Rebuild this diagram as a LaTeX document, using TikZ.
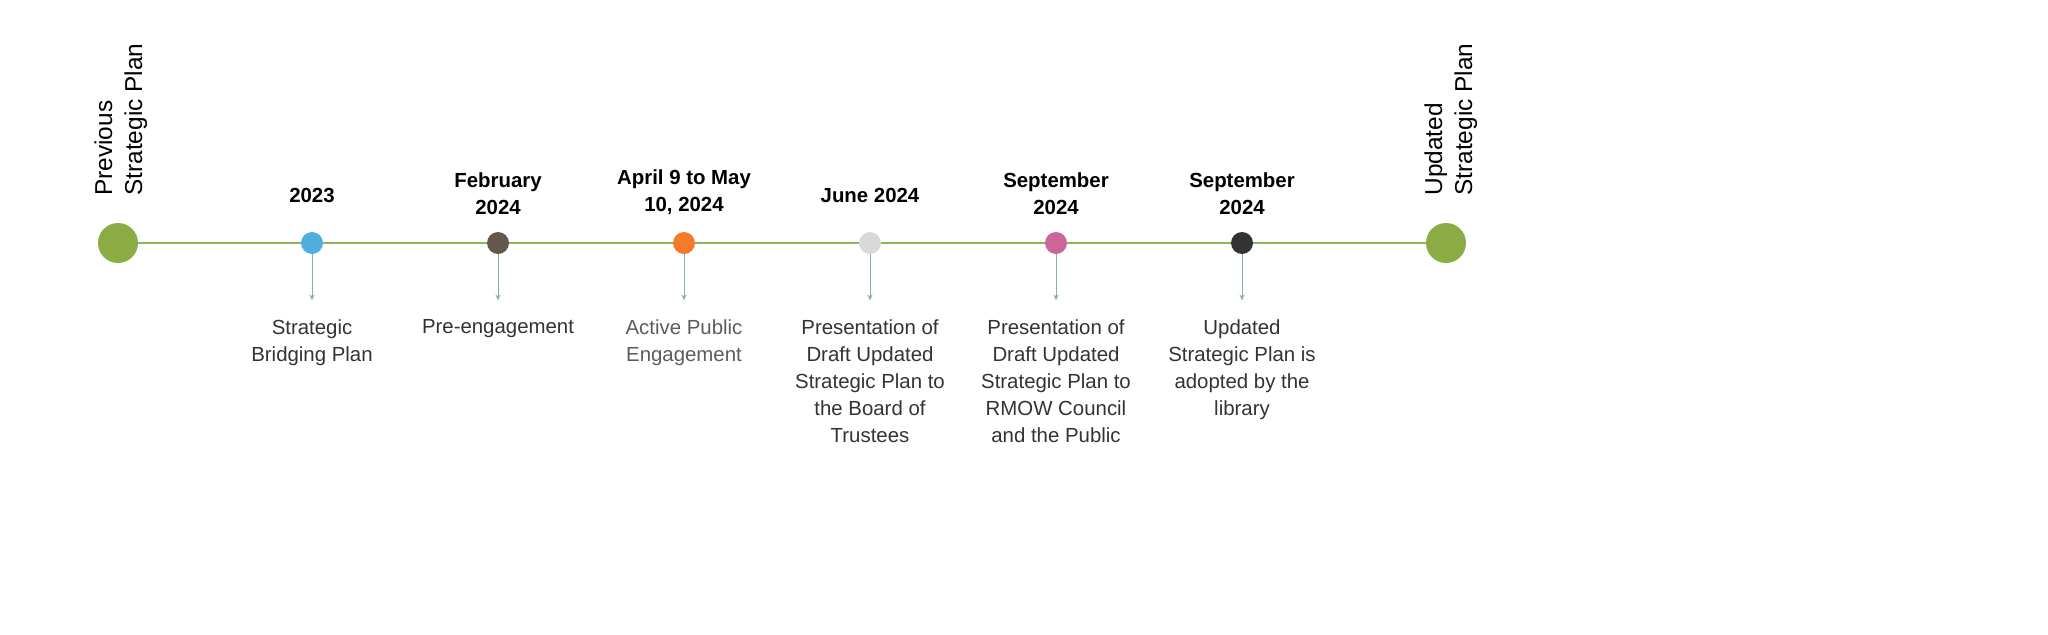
\documentclass[tikz,border=0pt]{standalone}
\usepackage{fontspec}
\setmainfont{Liberation Sans}
\usetikzlibrary{arrows.meta, positioning}
\definecolor{lineGreen}{HTML}{8DB55A}
\definecolor{endGreen}{HTML}{8BAC45}
\definecolor{stemGray}{HTML}{8AAFA5}
\definecolor{textGray}{HTML}{333333}
\definecolor{mBlue}{HTML}{4FAEDB}
\definecolor{mBrown}{HTML}{64574B}
\definecolor{mOrange}{HTML}{F47B2A}
\definecolor{mLight}{HTML}{D9D9D9}
\definecolor{mPink}{HTML}{CC6699}
\definecolor{mDark}{HTML}{333333}
\tikzset{
  endpt/.style={circle, fill=endGreen, minimum size=20pt, inner sep=0pt},
  mark/.style={circle, fill=#1, minimum size=11pt, inner sep=0pt},
  datelbl/.style={font=\fontsize{10.2}{13.5}\selectfont\bfseries, align=center, text=black},
  desc/.style={font=\fontsize{10.2}{13.5}\selectfont, align=center, text=textGray, anchor=north},
  sidelbl/.style={font=\fontsize{12.2}{15}\selectfont, align=left, rotate=90, anchor=north west, inner sep=0pt},
  stem/.style={draw=stemGray, -{Stealth[length=3pt,width=2.5pt]}}
}
\begin{document}
\begin{tikzpicture}[x=0.5pt, y=0.5pt]
\useasboundingbox (0,0) rectangle (2048,634);
% timeline and end points
\draw[lineGreen, line width=1.2pt] (118,391) -- (1446,391);
\node (prev) [endpt] at (118,391) {};
\node (upd) [endpt] at (1446,391) {};
\node (prevlbl) [sidelbl] at (94,438) {Previous\\Strategic Plan};
\node (updlbl) [sidelbl] at (1424,438) {Updated\\Strategic Plan};

% markers
\node (m1) [mark=mBlue] at (312,391) {};
\node (m2) [mark=mBrown] at (498,391) {};
\node (m3) [mark=mOrange] at (684,391) {};
\node (m4) [mark=mLight] at (870,391) {};
\node (m5) [mark=mPink] at (1056,391) {};
\node (m6) [mark=mDark] at (1242,391) {};

% dates
\node (d1) [datelbl, above=11pt of m1] {2023};
\node (d2) [datelbl, above=5pt of m2] {February\\2024};
\node (d3) [datelbl, above=5pt of m3] {April 9 to May\\10, 2024};
\node (d4) [datelbl, above=11pt of m4] {June 2024};
\node (d5) [datelbl, above=5pt of m5] {September\\2024};
\node (d6) [datelbl, above=5pt of m6] {September\\2024};

% arrow ends
\foreach \i in {1,...,6} {
  \coordinate (a\i) at ([yshift=-23pt]m\i.south);
  \draw[stem] (m\i) -- (a\i);
}

% descriptions
\node (t1) [desc, below=6pt of a1] {Strategic\\Bridging Plan};
\node (t2) [desc, below=6pt of a2] {Pre-engagement};
\node (t3) [desc, below=6pt of a3, text=textGray!80] {Active Public\\Engagement};
\node (t4) [desc, below=6pt of a4] {Presentation of\\Draft Updated\\Strategic Plan to\\the Board of\\Trustees};
\node (t5) [desc, below=6pt of a5] {Presentation of\\Draft Updated\\Strategic Plan to\\RMOW Council\\and the Public};
\node (t6) [desc, below=6pt of a6] {Updated\\Strategic Plan is\\adopted by the\\library};
\end{tikzpicture}
\end{document}
